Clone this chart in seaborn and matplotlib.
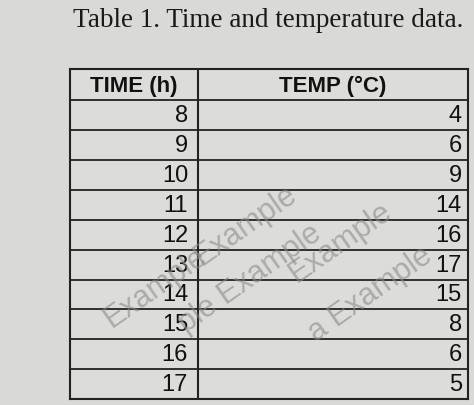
import matplotlib
matplotlib.use("Agg")
import matplotlib.pyplot as plt
import seaborn as sns

headers = ["TIME (h)", "TEMP (°C)"]
time_h = [8, 9, 10, 11, 12, 13, 14, 15, 16, 17]
temp_c = [4, 6, 9, 14, 16, 17, 15, 8, 6, 5]
title = "Table 1. Time and temperature data."

sns.set_theme(style="white")
plt.rcParams['font.family'] = ['Liberation Sans', 'DejaVu Sans']

fig = plt.figure(figsize=(4.74, 4.06), dpi=100)
fig.patch.set_facecolor("#d9d9d7")
fig.text(0.565, 0.95, title, ha="center", va="center", fontsize=19.5,
         family=["Liberation Serif"], color="#1a1a1a")

ax = fig.add_axes([70/474, 1-400/406, 398/474, 330/406])
ax.set_facecolor("#dcdcda")
ax.set_xlim(0, 398)
n = len(time_h)
ax.set_ylim(n + 1.05, 0)
split = 128
for sp in ax.spines.values():
    sp.set_color("#222"); sp.set_linewidth(1.5)
ax.set_xticks([]); ax.set_yticks([])
ax.axvline(split, color="#222", lw=1.5)
for i in range(1, n + 1):
    ax.axhline(i + 0.05, color="#222", lw=1.3)

ax.text(split/2, 0.55, headers[0], ha="center", va="center", fontsize=16, fontweight="bold", color="#111")
ax.text((split+398)/2, 0.55, headers[1], ha="center", va="center", fontsize=16, fontweight="bold", color="#111")
for i, (t, v) in enumerate(zip(time_h, temp_c)):
    y = i + 1.55
    ax.text(split - 10, y, str(t), ha="right", va="center", fontsize=17, color="#111")
    ax.text(398 - 6, y, str(v), ha="right", va="center", fontsize=17, color="#111")

wm = dict(fontsize=22, color="#8a8a8a", alpha=0.6, ha="center", va="center")
ax.text(85, 7.3, "Example", rotation=35, **wm)
ax.text(175, 5.2, "Example", rotation=35, **wm)
ax.text(180, 7.0, "ple Example", rotation=35, **wm)
ax.text(270, 5.8, "Example", rotation=35, **wm)
ax.text(300, 7.5, "a Example", rotation=35, **wm)
fig.savefig("out.png", dpi=100, facecolor=fig.get_facecolor())
